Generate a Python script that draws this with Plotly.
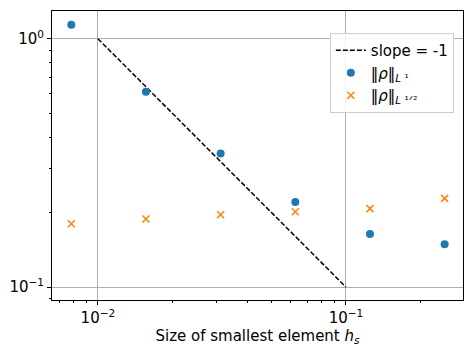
import plotly.graph_objects as go

h = [1/128, 1/64, 1/32, 1/16, 1/8, 1/4]
rho_L1 = [1.139, 0.612, 0.345, 0.220, 0.1634, 0.1486]
rho_Lhalf = [0.180, 0.188, 0.1955, 0.201, 0.207, 0.2276]
slope_x = [0.01, 0.1]
slope_y = [1.0, 0.1]
xtick_vals = [0.01, 0.1]
xtick_text = ["10<sup>−2</sup>", "10<sup>−1</sup>"]
ytick_vals = [0.1, 1.0]
ytick_text = ["10<sup>−1</sup>", "10<sup>0</sup>"]

font = "DejaVu Sans"
fs = 15
fig = go.Figure()
fig.add_trace(go.Scatter(x=slope_x, y=slope_y, mode="lines", name="slope = -1",
                         line=dict(color="black", dash="5px,2px", width=1.5)))
fig.add_trace(go.Scatter(x=h, y=rho_L1, mode="markers",
                         name="‖<i>ρ</i>‖<sub><i>L</i> ¹</sub>",
                         marker=dict(color="#1f77b4", size=8, symbol="circle")))
fig.add_trace(go.Scatter(x=h, y=rho_Lhalf, mode="markers",
                         name="‖<i>ρ</i>‖<sub><i>L</i> ¹ᐟ²</sub>",
                         marker=dict(color="#ff7f0e", size=7, symbol="x-thin",
                                     line=dict(color="#ff7f0e", width=1.5))))

xminor = [m * 10**e for e in (-3, -2, -1) for m in range(2, 10)]
yminor = [m * 10**e for e in (-2, -1, 0) for m in range(2, 10)]

axis_common = dict(type="log", showline=True, linecolor="black", linewidth=1, mirror=True,
                   ticks="outside", ticklen=4, tickcolor="black", automargin=False,
                   showgrid=True, gridcolor="#b0b0b0", gridwidth=1, zeroline=False,
                   tickfont=dict(family=font, size=fs, color="black"))

fig.update_xaxes(range=[-2.185, -0.528], tickvals=xtick_vals, ticktext=xtick_text,
                 minor=dict(tickvals=xminor, ticks="outside", ticklen=2, tickcolor="black", showgrid=False),
                 title=dict(text="Size of smallest element <i>h</i><sub><i>s</i></sub>",
                            font=dict(family=font, size=fs, color="black"), standoff=0),
                 **axis_common)
fig.update_yaxes(range=[-1.052, 0.1116], tickvals=ytick_vals, ticktext=ytick_text,
                 minor=dict(tickvals=yminor, ticks="outside", ticklen=2, tickcolor="black", showgrid=False),
                 **axis_common)

fig.update_layout(width=466, height=347, margin=dict(l=44, r=11, t=3, b=55),
                  plot_bgcolor="white", paper_bgcolor="white",
                  font=dict(family=font, size=fs, color="black"),
                  legend=dict(x=0.676, y=0.924, xanchor="left", yanchor="top",
                              bgcolor="rgba(255,255,255,0.85)", bordercolor="#cccccc", borderwidth=1,
                              tracegroupgap=0, itemwidth=30,
                              font=dict(family=font, size=fs)))
fig.write_html("out.html")
